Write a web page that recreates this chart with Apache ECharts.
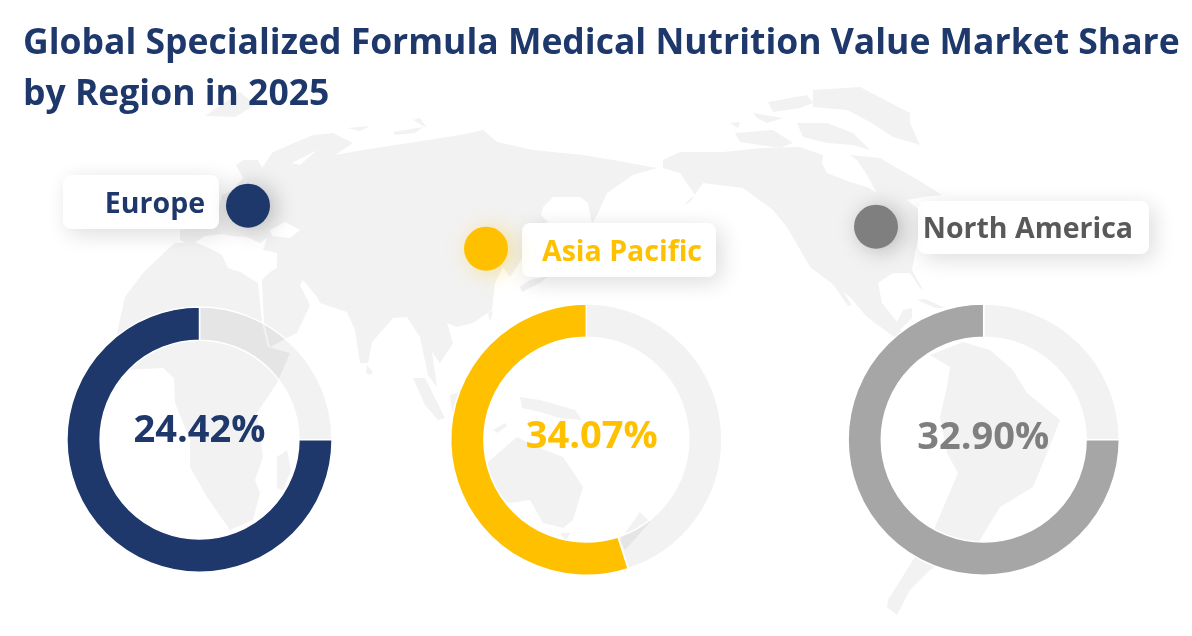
<!DOCTYPE html>
<html lang="en">
<head>
    <meta charset="UTF-8">
    <title>Specialized Formula Medical Nutrition Market Share</title>
    <script src="https://cdn.jsdelivr.net/npm/echarts@6/dist/echarts.min.js"></script>
    <style>
        html, body { margin: 0; padding: 0; background: #fff; }
    </style>
</head>
<body>
<div id="main" style="width:1192px;height:636px;"></div>
<script type="text/javascript">
    // values
    const regions = ['Europe', 'Asia Pacific', 'North America'];
    const shareLabels = [24.42, 34.07, 32.90];
    // the rings in the picture are not filled to the printed share
    const ringFilled = [75, 55, 75];

    const ringColors = ['#1E386C', '#FFC000', '#A6A6A6'];
    const dotColors = ['#1E386C', '#FFC000', '#7F7F7F'];
    const nameColors = ['#1E386C', '#FFC000', '#595959'];
    const shareColors = ['#1E386C', '#FFC000', '#7F7F7F'];

    const FONT = '"Open Sans", "Noto Sans", sans-serif';

    // layout in page pixels, one entry per region
    const rings = [
        {cx: 199.5, cy: 439.7, r0: 99.4, r: 132.6, tx: 199.5, ty: 431.5},
        {cx: 586.3, cy: 439.7, r0: 102.4, r: 135.6, tx: 591.7, ty: 437},
        {cx: 983.7, cy: 439.7, r0: 102.4, r: 135.6, tx: 983.3, ty: 438.5}
    ];
    const pills = [
        {x: 63, y: 175, w: 156, h: 54, tx: 205, align: 'right'},
        {x: 522, y: 223, w: 194, h: 54, tx: 702, align: 'right'},
        {x: 918, y: 201, w: 231, h: 53, tx: 1133, align: 'right'}
    ];
    const dots = [
        {x: 248, y: 205.7},
        {x: 486, y: 248.7},
        {x: 876, y: 226.7}
    ];

    // faint world map behind the rings, rough outlines in page pixels
    const land = [
        // Africa
        [[167,250],[143,273],[125,297],[117,333],[127,370],[163,368],[174,378],[175,403],[190,440],[190,467],[207,497],[230,530],[253,520],[260,493],[255,480],[263,457],[257,413],[277,383],[290,353],[268,347],[262,323],[258,283],[240,272],[228,268],[222,255],[213,250],[195,242],[175,243]],
        // Madagascar
        [[277,457],[287,450],[291,470],[283,490],[277,488]],
        // Eurasia
        [[180,240],[180,230],[200,227],[217,215],[222,195],[233,190],[243,178],[236,165],[243,160],[258,160],[262,168],[273,152],[313,135],[333,133],[353,143],[335,155],[363,150],[460,135],[483,130],[497,142],[533,150],[583,155],[613,160],[657,168],[633,175],[607,193],[597,215],[592,223],[588,203],[580,197],[553,197],[538,212],[548,222],[523,257],[510,277],[503,267],[495,283],[492,310],[473,323],[457,327],[447,323],[453,343],[440,363],[432,352],[437,387],[428,375],[422,347],[420,337],[407,317],[393,318],[372,342],[368,363],[360,363],[355,330],[347,312],[320,303],[317,297],[303,280],[300,285],[310,305],[297,333],[287,338],[270,347],[264,323],[262,280],[270,272],[277,268],[277,253],[263,250],[267,238],[260,243],[247,237],[232,236],[222,234],[205,236],[190,245]],
        // islands around Eurasia
        [[205,116],[240,92],[255,105],[235,117]],
        [[347,128],[370,126],[360,131]],
        [[393,132],[423,127],[415,133],[395,135]],
        [[413,120],[420,118],[427,128]],
        [[520,287],[530,280],[547,277],[540,283],[522,292]],
        [[540,200],[544,205],[538,222]],
        [[413,378],[425,378],[445,418],[438,420],[425,405]],
        [[367,365],[373,372],[370,375],[366,373]],
        [[488,313],[493,311],[490,322]],
        [[493,430],[505,423],[507,426],[497,433]],
        [[450,395],[470,388],[478,405],[465,420],[452,412]],
        // Australia and neighbours
        [[487,463],[517,437],[537,447],[563,457],[583,487],[573,520],[563,528],[543,523],[530,500],[510,503],[493,500]],
        [[560,533],[570,533],[566,541]],
        [[640,512],[650,522],[625,550],[620,540]],
        [[520,397],[540,400],[575,410],[582,420],[560,418],[540,412],[522,408]],
        // Greenland and the Arctic islands
        [[813,90],[860,87],[910,113],[910,123],[920,145],[893,137],[870,122],[847,110],[813,107]],
        [[768,102],[807,95],[813,103],[800,108],[773,112]],
        [[797,123],[827,123],[853,133],[870,150],[853,145],[827,143],[803,137]],
        [[735,133],[773,130],[793,143],[780,148],[740,142]],
        [[730,123],[740,122],[738,128]],
        [[753,113],[783,118],[767,123],[757,118]],
        // North and Central America
        [[663,160],[680,152],[723,152],[763,148],[800,147],[823,155],[822,163],[827,173],[850,182],[867,187],[877,193],[867,175],[857,160],[850,155],[880,158],[923,183],[942,195],[923,197],[907,200],[923,213],[915,253],[912,270],[923,290],[920,288],[910,273],[893,273],[878,283],[882,303],[897,322],[903,310],[912,308],[912,318],[900,330],[925,352],[920,356],[867,317],[850,297],[810,267],[787,227],[773,210],[743,188],[703,183],[690,202],[683,205],[695,195],[680,173],[663,168]],
        [[828,277],[833,277],[852,305],[848,306]],
        [[917,300],[925,299],[945,308],[935,308]],
        // South America
        [[930,355],[963,342],[990,350],[1013,370],[1027,393],[1060,420],[1047,453],[1033,487],[1000,507],[980,540],[930,570],[910,590],[897,615],[887,607],[888,600],[913,560],[935,527],[958,473],[947,453],[940,417],[947,387],[950,367]]
    ];
    // seas cut out of the land
    const seas = [
        [[270,230],[285,222],[300,230],[290,238],[272,236]],
        [[292,163],[317,150],[300,165]]
    ];

    const graphics = [];
    land.forEach(points => graphics.push({
        type: 'polygon', silent: true, z: 0,
        shape: {points: points},
        style: {fill: '#F2F2F2'}
    }));
    seas.forEach(points => graphics.push({
        type: 'polygon', silent: true, z: 0,
        shape: {points: points},
        style: {fill: '#fff'}
    }));

    regions.forEach((name, i) => {
        graphics.push({
            type: 'rect', silent: true, z: 5,
            shape: {x: pills[i].x, y: pills[i].y, width: pills[i].w, height: pills[i].h, r: 8},
            style: {fill: '#fff', shadowBlur: 22, shadowColor: 'rgba(0,0,0,0.14)', shadowOffsetX: 5, shadowOffsetY: 5}
        });
        graphics.push({
            type: 'text', silent: true, z: 6,
            style: {
                x: pills[i].tx, y: pills[i].y + pills[i].h / 2 + 2.5,
                text: name, fill: nameColors[i],
                font: '700 28.5px ' + FONT,
                align: pills[i].align, verticalAlign: 'middle'
            }
        });
        graphics.push({
            type: 'circle', silent: true, z: 7,
            shape: {cx: dots[i].x, cy: dots[i].y, r: 22},
            style: {
                fill: dotColors[i],
                shadowBlur: 22, shadowColor: i === 1 ? 'rgba(255,192,0,0.4)' : 'rgba(0,0,0,0.25)',
                shadowOffsetX: 5, shadowOffsetY: 2
            }
        });
        graphics.push({
            type: 'text', silent: true, z: 8,
            style: {
                x: rings[i].tx, y: rings[i].ty,
                text: shareLabels[i].toFixed(2) + '%', fill: shareColors[i],
                font: '700 38px ' + FONT,
                align: 'center', verticalAlign: 'middle'
            }
        });
    });

    let option = {
        backgroundColor: '#fff',
        animation: false,
        title: {
            text: 'Global Specialized Formula Medical Nutrition Value Market Share\nby Region in 2025',
            left: 18,
            top: 13,
            textStyle: {
                color: '#1E386C',
                fontFamily: FONT,
                fontWeight: 700,
                fontSize: 35.5,
                lineHeight: 51
            }
        },
        graphic: {elements: graphics},
        series: regions.map((name, i) => ({
            name: name,
            type: 'pie',
            silent: true,
            z: 2,
            center: [rings[i].cx, rings[i].cy],
            radius: [rings[i].r0, rings[i].r],
            startAngle: 90,
            clockwise: true,
            label: {show: false},
            labelLine: {show: false},
            emphasis: {disabled: true},
            itemStyle: {borderColor: '#fff', borderWidth: 1.5},
            data: [
                {value: 100 - ringFilled[i], name: 'Rest', itemStyle: {color: 'rgba(0,0,0,0.052)'}},
                {value: ringFilled[i], name: name, itemStyle: {color: ringColors[i]}}
            ]
        }))
    };

    let myChart = echarts.init(document.getElementById('main'));
    myChart.setOption(option);
</script>
</body>
</html>
